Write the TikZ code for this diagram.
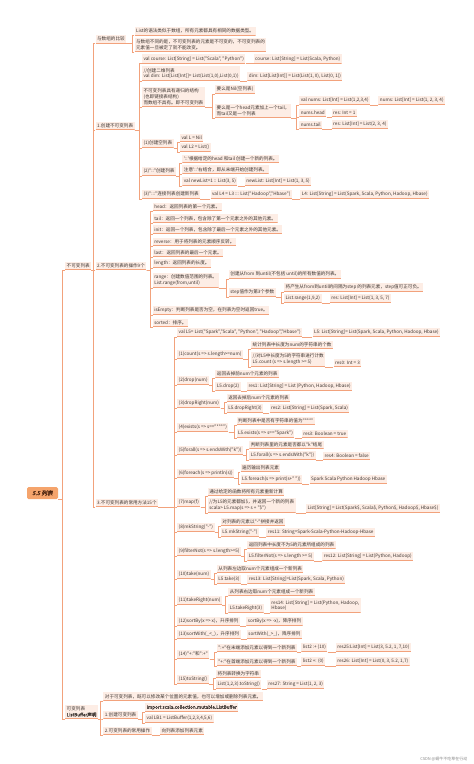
\documentclass[tikz,border=0pt]{standalone}
\usepackage{fontspec}
\setmainfont{Noto Sans CJK SC}[Ligatures=TeXOff]
\newfontfamily\rootfont{Noto Sans CJK SC}[FakeSlant=0.2,FakeBold=1.5]
\newfontfamily\boldfont{Noto Sans CJK SC}[FakeBold=1.2]
\usetikzlibrary{calc}
\definecolor{linec}{HTML}{F2A27C}
\definecolor{topicbg}{HTML}{FDEDE5}
\definecolor{topictext}{HTML}{3C3430}
\definecolor{rootc}{HTML}{F5A46C}
\definecolor{roottext}{HTML}{4A2410}

\begin{document}
\begin{tikzpicture}[x=1pt, y=-1pt,
  topic/.style={fill=topicbg, anchor=south west, align=left, text=topictext,
    inner xsep=1.5pt, inner ysep=2pt, font=\fontsize{4.6}{5.8}\selectfont,
    path picture={\draw[linec, line width=1.4pt] (path picture bounding box.south west) -- (path picture bounding box.south east);}},
  root/.style={fill=rootc, rounded corners=1.5pt, minimum width=31pt, minimum height=12pt,
    text=roottext, font=\rootfont\fontsize{5.6}{6.5}\selectfont},
  link/.style={draw=linec, line width=0.65pt}]
\fill[white] (0,0) rectangle (474,764);
\useasboundingbox (0,0) rectangle (474,764);

\node[root] (root) at (42.5,493) {5.5 列表};
\node[topic] (imm) at (65,270) {不可变列表};
\node[topic] (mut) at (65,719) {可变列表\\{\boldfont ListBuffer声明}};

% 不可变列表
\node[topic] (cmp) at ($(imm.south east |- 0,43.5)+(4,0)$) {与数组的比较};
\node[topic] (create) at (cmp.south west |- 0,130) {1.创建不可变列表};
\node[topic] (ops) at (cmp.south west |- 0,270) {2.不可变列表的操作9个};
\node[topic] (meth) at (cmp.south west |- 0,507) {3.不可变列表的常用方法15个};

\node[topic] (cmpa) at ($(cmp.south east |- 0,35.5)+(8,0)$) {List的语法类似于数组，所有元素都具有相同的数据类型。};
\node[topic] (cmpb) at (cmpa.south west |- 0,52) {与数组不同的是，不可变列表的元素是不可变的，不可变列表的\\元素值一旦被定了就不能改变。};

% 1.创建
\node[topic] (cra) at ($(create.south east |- 0,63.5)+(7,0)$) {val course: List[String] = List("Scala", "Python")};
\node[topic] (crar) at ([xshift=8pt]cra.south east) {course: List[String] = List(Scala, Python)};
\node[topic] (crb) at (cra.south west |- 0,81) {//创建二维列表\\val dim: List[List[Int]]= List(List(1,0),List(0,1))};
\node[topic] (crbr) at ([xshift=7pt]crb.south east) {dim: List[List[Int]] = List(List(1, 0), List(0, 1))};
\node[topic] (crc) at (cra.south west |- 0,107) {不可变列表具有递归的结构\\(也即链接表结构)\\而数组不具有。即不可变列表};
\node[topic] (nil) at ($(crc.south east |- 0,94)+(10,0)$) {要么是Nil(空列表)};
\node[topic] (ht) at (nil.south west |- 0,118) {要么是一个head元素加上一个tail，\\而tail又是一个列表};
\node[topic] (nums) at ($(ht.south east |- 0,105)+(8,0)$) {val nums: List[Int] = List(1,2,3,4)};
\node[topic] (numsr) at ([xshift=8pt]nums.south east) {nums: List[Int] = List(1, 2, 3, 4)};
\node[topic] (nhead) at (nums.south west |- 0,117) {nums.head};
\node[topic] (nheadr) at ([xshift=5pt]nhead.south east) {res: Int = 1};
\node[topic] (ntail) at (nums.south west |- 0,129) {nums.tail};
\node[topic] (ntailr) at (nheadr.south west |- 0,129) {res: List[Int] = List(2, 3, 4)};
\node[topic] (crd) at (cra.south west |- 0,148) {(1)创建空列表};
\node[topic] (nl) at ($(crd.south east |- 0,142)+(6,0)$) {val L = Nil};
\node[topic] (nl2) at (nl.south west |- 0,152) {val L2 = List()};
\node[topic] (cre) at (cra.south west |- 0,176) {(2)"::"创建列表};
\node[topic] (cea) at ($(cre.south east |- 0,163)+(6,0)$) {'::'根据给定的head 和tail 创建一个新的列表。};
\node[topic] (ceb) at (cea.south west |- 0,174) {注意'::'右结合，即从末端开始创建列表。};
\node[topic] (cec) at (cea.south west |- 0,186) {val newList=1 :: List(3, 5)};
\node[topic] (cecr) at ([xshift=7pt]cec.south east) {newList: List[Int] = List(1, 3, 5)};
\node[topic] (crf) at (cra.south west |- 0,199) {(3)":::"连接列表创建新列表};
\node[topic] (cfa) at ([xshift=10pt]crf.south east) {val L4 = L3 ::: List("Hadoop","Hbase")};
\node[topic] (cfar) at ([xshift=8pt]cfa.south east) {L4: List[String] = List(Spark, Scala, Python, Hadoop, Hbase)};

% 2.操作
\node[topic] (oa) at ($(ops.south east |- 0,211)+(6,0)$) {head：返回列表的第一个元素。};
\node[topic] (ob) at (oa.south west |- 0,223) {tail：返回一个列表，包含除了第一个元素之外的其他元素。};
\node[topic] (oc) at (oa.south west |- 0,234) {init：返回一个列表，包含除了最后一个元素之外的其他元素。};
\node[topic] (od) at (oa.south west |- 0,246) {reverse：用于将列表的元素顺序反转。};
\node[topic] (oe) at (oa.south west |- 0,257) {last：返回列表的最后一个元素。};
\node[topic] (of) at (oa.south west |- 0,268) {length：返回列表的长度。};
\node[topic] (og) at (oa.south west |- 0,288) {range：创建数值范围的列表。\\List.range(from,until)};
\node[topic] (oh) at (oa.south west |- 0,315) {isEmpty：判断列表是否为空，在列表为空时返回true。};
\node[topic] (oi) at (oa.south west |- 0,327) {sorted：排序。};
\node[topic] (ga) at ($(og.south east |- 0,279)+(10,0)$) {创建从from 到until(不包括 until)的所有数值的列表。};
\node[topic] (gb) at (ga.south west |- 0,297) {step值作为第3个参数};
\node[topic] (gba) at ($(gb.south east |- 0,292)+(8,0)$) {将产生从from到until的间隔为step 的列表元素，step值可正可负。};
\node[topic] (gbb) at (gba.south west |- 0,303) {List.range(1,9,2)};
\node[topic] (gbbr) at ([xshift=8pt]gbb.south east) {res: List[Int] = List(1, 3, 5, 7)};

% 3.常用方法
\node[topic] (m0) at (177,337) {val L5= List("Spark","Scala", "Python", "Hadoop","Hbase")};
\node[topic] (m0r) at ([xshift=10pt]m0.south east) {L5: List[String]= List(Spark, Scala, Python, Hadoop, Hbase)};
\node[topic] (m1) at (177,359) {(1)count(s => s.length>=num)};
\node[topic] (m1a) at ($(m1.south east |- 0,349)+(8,0)$) {统计列表中长度为num的字符串的个数};
\node[topic] (m1b) at (m1a.south west |- 0,367) {//对L5中长度为5的字符串进行计数\\L5.count (s => s.length >= 5)};
\node[topic] (m1br) at ([xshift=8pt]m1b.south east) {res0: Int = 3};
\node[topic] (m2) at (177,385) {(2)drop(num)};
\node[topic] (m2a) at ($(m2.south east |- 0,378)+(6,0)$) {返回去掉前num个元素的列表};
\node[topic] (m2b) at (m2a.south west |- 0,391) {L5.drop(2)};
\node[topic] (m2br) at ([xshift=6pt]m2b.south east) {res1: List[String] = List (Python, Hadoop, Hbase)};
\node[topic] (m3) at (177,408) {(3)dropRight(num)};
\node[topic] (m3a) at ($(m3.south east |- 0,402)+(6,0)$) {返回去掉后num个元素的列表};
\node[topic] (m3b) at (m3a.south west |- 0,413) {L5.dropRight(3)};
\node[topic] (m3br) at ([xshift=6pt]m3b.south east) {res2: List[String] = List(Spark, Scala)};
\node[topic] (m4) at (177,432) {(4)exists(s => s=="***")};
\node[topic] (m4a) at ($(m4.south east |- 0,425)+(8,0)$) {判断列表中是否有字符串的值为"***"};
\node[topic] (m4b) at (m4a.south west |- 0,438) {L5.exists(s => s=="Spark")};
\node[topic] (m4br) at ([xshift=7pt]m4b.south east) {res3: Boolean = true};
\node[topic] (m5) at (177,455) {(5)forall(s => s.endsWith("k"))};
\node[topic] (m5a) at ($(m5.south east |- 0,449)+(6,0)$) {判断列表里的元素是否都以"k"结尾};
\node[topic] (m5b) at (m5a.south west |- 0,460) {L5.forall(s => s.endsWith("k"))};
\node[topic] (m5br) at ([xshift=7pt]m5b.south east) {res4: Boolean = false};
\node[topic] (m6) at (177,478) {(6)foreach(s => println(s))};
\node[topic] (m6a) at ($(m6.south east |- 0,472)+(6,0)$) {遍历输出列表元素};
\node[topic] (m6b) at (m6a.south west |- 0,484) {L5.foreach(s => print(s+" "))};
\node[topic] (m6br) at ([xshift=7pt]m6b.south east) {Spark Scala Python Hadoop Hbase};
\node[topic] (m7) at (177,507) {(7)map(f)};
\node[topic] (m7a) at ($(m7.south east |- 0,496)+(7,0)$) {通过给定的函数将所有元素重新计算};
\node[topic] (m7b) at (m7a.south west |- 0,513) {//为L5的元素都加\$，并返回一个新的列表\\scala> L5.map(s => s + "\$")};
\node[topic] (m7br) at ([xshift=10pt]m7b.south east) {List[String] = List(Spark\$, Scala\$, Python\$, Hadoop\$, Hbase\$)};
\node[topic] (m8) at (177,532) {(8)mkString("-")};
\node[topic] (m8a) at ($(m8.south east |- 0,526)+(6,0)$) {对列表的元素以"-"拼接并返回};
\node[topic] (m8b) at (m8a.south west |- 0,537) {L5.mkString("-")};
\node[topic] (m8br) at ([xshift=7pt]m8b.south east) {res11: String=Spark-Scala-Python-Hadoop-Hbase};
\node[topic] (m9) at (177,556) {(9)filterNot(s => s.length>=5)};
\node[topic] (m9a) at ($(m9.south east |- 0,549)+(6,0)$) {返回列表中长度不为5的元素所组成的列表};
\node[topic] (m9b) at (m9a.south west |- 0,561) {L5.filterNot(s => s.length >= 5)};
\node[topic] (m9br) at ([xshift=8pt]m9b.south east) {res12: List[String] = List(Python, Hadoop)};
\node[topic] (m10) at (177,579) {(10)take(num)};
\node[topic] (m10a) at ($(m10.south east |- 0,573)+(6,0)$) {从列表左边取num个元素组成一个新列表};
\node[topic] (m10b) at (m10a.south west |- 0,584) {L5.take(3)};
\node[topic] (m10br) at ([xshift=6pt]m10b.south east) {res13: List[String]=List(Spark, Scala, Python)};
\node[topic] (m11) at (177,605) {(11)takeRight(num)};
\node[topic] (m11a) at ($(m11.south east |- 0,596)+(6,0)$) {从列表右边取num个元素组成一个新列表};
\node[topic] (m11b) at (m11a.south west |- 0,613) {L5.takeRight(3)};
\node[topic] (m11br) at ([xshift=6pt]m11b.south east) {res14: List[String] = List(Python, Hadoop,\\Hbase)};
\node[topic] (m12) at (177,626) {(12)sortBy(x => x)，升序排列};
\node[topic] (m12r) at ([xshift=6pt]m12.south east) {sortBy(x => -x)，降序排列};
\node[topic] (m13) at (177,639) {(13)sortWith(\_<\_)，升序排列};
\node[topic] (m13r) at ([xshift=6pt]m13.south east) {sortWith(\_>\_)，降序排列};
\node[topic] (m14) at (177,659) {(14)"+:"和":+"};
\node[topic] (m14a) at ($(m14.south east |- 0,652)+(7,0)$) {":+"在末端添加元素以得到一个新列表};
\node[topic] (m14ar) at ([xshift=4pt]m14a.south east) {list2 :+ (10)};
\node[topic] (m14arr) at ([xshift=8pt]m14ar.south east) {res25:List[Int] = List(3, 5.2, 1, 7,10)};
\node[topic] (m14b) at (m14a.south west |- 0,666) {"+:"在首端添加元素以得到一个新列表};
\node[topic] (m14br) at (m14ar.south west |- 0,666) {list2 +: (0)};
\node[topic] (m14brr) at (m14arr.south west |- 0,666) {res26: List[Int] = List(0, 3, 5.2, 1,7)};
\node[topic] (m15) at (177,684) {(15)toString()};
\node[topic] (m15a) at ($(m15.south east |- 0,678)+(7,0)$) {将列表转换为字符串};
\node[topic] (m15b) at (m15a.south west |- 0,689) {List(1,2,3).toString()};
\node[topic] (m15br) at ([xshift=5pt]m15b.south east) {res27: String = List(1, 2, 3)};

% 可变列表
\node[topic] (ma) at ($(mut.south east |- 0,701)+(5,0)$) {对于可变列表，既可以修改某个位置的元素值，也可以增加或删除列表元素。};
\node[topic] (mb) at (ma.south west |- 0,719) {1.创建可变列表};
\node[topic] (mba) at ($(mb.south east |- 0,712)+(7,0)$) {\boldfont import scala.collection.mutable.ListBuffer};
\node[topic] (mbb) at (mba.south west |- 0,723) {val LB1 = ListBuffer(1,2,3,4,5,6)};
\node[topic] (mc) at (ma.south west |- 0,735) {2.可变列表的常用操作};
\node[topic] (mca) at ([xshift=8pt]mc.south east) {向列表添加列表元素};

\node[font=\fontsize{4}{5}\selectfont, text=black!45, anchor=east] (mark) at (471,759) {CSDN @蜗牛不吃草在行动};

% branches
\foreach \p/\cs in {root/{imm,mut}, imm/{cmp,create,ops,meth}, cmp/{cmpa,cmpb},
    create/{cra,crb,crc,crd,cre,crf}, crc/{nil,ht}, ht/{nums,nhead,ntail},
    crd/{nl,nl2}, cre/{cea,ceb,cec}, ops/{oa,ob,oc,od,oe,of,og,oh,oi},
    og/{ga,gb}, gb/{gba,gbb},
    meth/{m0,m1,m2,m3,m4,m5,m6,m7,m8,m9,m10,m11,m12,m13,m14,m15},
    m1/{m1a,m1b}, m2/{m2a,m2b}, m3/{m3a,m3b}, m4/{m4a,m4b}, m5/{m5a,m5b},
    m6/{m6a,m6b}, m7/{m7a,m7b}, m8/{m8a,m8b}, m9/{m9a,m9b}, m10/{m10a,m10b},
    m11/{m11a,m11b}, m14/{m14a,m14b}, m15/{m15a,m15b},
    mut/{ma,mb,mc}, mb/{mba,mbb}}
  \foreach \c in \cs
    \draw[link] (\p.south east) -| ([xshift=-2.5pt]\c.south west) -- (\c.south west);
% results
\foreach \a/\b in {cra/crar, crb/crbr, nums/numsr, nhead/nheadr, ntail/ntailr,
    cec/cecr, crf/cfa, cfa/cfar, gbb/gbbr, m0/m0r, m1b/m1br, m2b/m2br, m3b/m3br,
    m4b/m4br, m5b/m5br, m6b/m6br, m7b/m7br, m8b/m8br, m9b/m9br, m10b/m10br,
    m11b/m11br, m12/m12r, m13/m13r, m14a/m14ar, m14ar/m14arr, m14b/m14br,
    m14br/m14brr, m15b/m15br, mc/mca}
  \draw[link] (\a.south east) -- (\b.south west);
\end{tikzpicture}
\end{document}
